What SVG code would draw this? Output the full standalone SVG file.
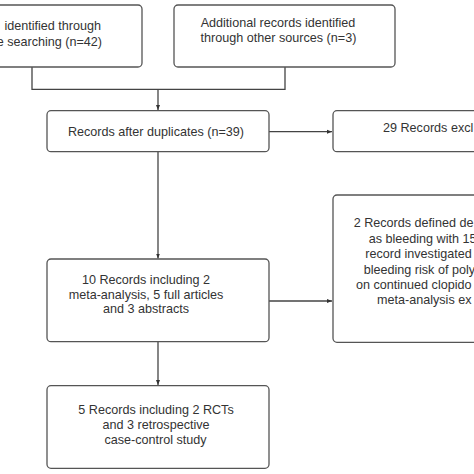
<svg xmlns="http://www.w3.org/2000/svg" width="474" height="474" viewBox="0 0 474 474">
<defs>
<style>
.box{fill:#fff;stroke:#555;stroke-width:1.3}
.t{font-family:"Liberation Sans",Arial,sans-serif;font-size:12.6px;fill:#333}
.c{text-anchor:middle}
.e{text-anchor:end}
.conn{fill:none;stroke:#444;stroke-width:1.3}
</style>
<marker id="ah" viewBox="0 0 10 10" refX="10" refY="5" markerWidth="5" markerHeight="5" markerUnits="userSpaceOnUse" orient="auto">
<path d="M0,1 L10,5 L0,9 Z" fill="#333"/>
</marker>
</defs>
<rect width="474" height="474" fill="#fff"/>
<g id="connectors">
<path class="conn" d="M32,67 V89.3 H285 V67"/>
<path class="conn" d="M158,89.3 V110" marker-end="url(#ah)"/>
<path class="conn" d="M269,131.7 H332" marker-end="url(#ah)"/>
<path class="conn" d="M158,151.7 V258.5" marker-end="url(#ah)"/>
<path class="conn" d="M269,301 H332" marker-end="url(#ah)"/>
<path class="conn" d="M158,341.7 V385" marker-end="url(#ah)"/>
</g>
<g id="db-records">
<rect class="box" x="-90" y="5" width="232" height="62" rx="4"/>
<text class="t e" x="101" y="29.5">identified through</text>
<text class="t e" x="102" y="45.5">e searching (n=42)</text>
</g>
<g id="other-records">
<rect class="box" x="174" y="5" width="221" height="62" rx="4"/>
<text class="t c" x="278" y="26.8">Additional records identified</text>
<text class="t c" x="278.5" y="41.5">through other sources (n=3)</text>
</g>
<g id="after-duplicates">
<rect class="box" x="47" y="110.7" width="222" height="41" rx="4"/>
<text class="t c" x="156" y="136">Records after duplicates (n=39)</text>
</g>
<g id="excluded-29">
<rect class="box" x="333" y="110.7" width="160" height="41" rx="4"/>
<text class="t" x="383" y="132">29 Records excl</text>
</g>
<g id="records-10">
<rect class="box" x="47" y="259" width="222" height="82.7" rx="4"/>
<text class="t c" x="146" y="283.5">10 Records including 2</text>
<text class="t c" x="146" y="298.5">meta-analysis, 5 full articles</text>
<text class="t c" x="146" y="313">and 3 abstracts</text>
</g>
<g id="excluded-2">
<rect class="box" x="333" y="195" width="160" height="147.3" rx="4"/>
<text class="t" x="353.7" y="227">2 Records defined de</text>
<text class="t" x="368.7" y="242.5">as bleeding with 15</text>
<text class="t" x="365.3" y="258">record investigated</text>
<text class="t" x="363.7" y="273.5">bleeding risk of poly</text>
<text class="t" x="356" y="288.5">on continued clopido</text>
<text class="t" x="377" y="303.5">meta-analysis ex</text>
</g>
<g id="records-5">
<rect class="box" x="47" y="385.7" width="222" height="82.6" rx="4"/>
<text class="t c" x="156" y="413.5">5 Records including 2 RCTs</text>
<text class="t c" x="156" y="428.5">and 3 retrospective</text>
<text class="t c" x="155.5" y="443.5">case-control study</text>
</g>
</svg>
